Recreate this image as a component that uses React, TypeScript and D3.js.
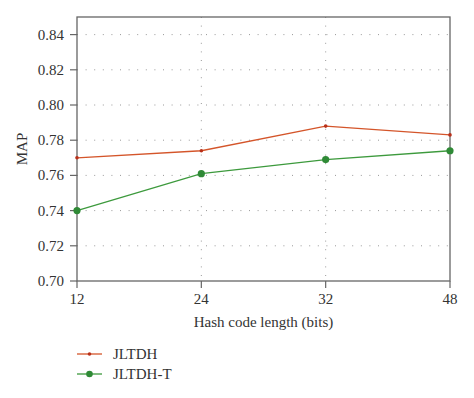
import React from "react";
import * as d3 from "d3";

const categories = ["12", "24", "32", "48"];
const jltdh = [0.770, 0.774, 0.788, 0.783];
const jltdhT = [0.740, 0.761, 0.769, 0.774];
const yTicks = [0.70, 0.72, 0.74, 0.76, 0.78, 0.80, 0.82, 0.84];
const seriesNames = ["JLTDH", "JLTDH-T"];

const W = 474, H = 398;
const M = { left: 77, right: 450, top: 17, bottom: 281 };
const FONT = "'Liberation Serif', 'Times New Roman', serif";
const RED = "#d4552a";
const GREEN = "#3d9a3d";
const AXIS = "#666";

export default function App() {
  const x = d3.scalePoint<string>().domain(categories).range([M.left, M.right]);
  const y = d3.scaleLinear().domain([0.70, 0.85]).range([M.bottom, M.top]);
  const line = d3
    .line<number>()
    .x((_, i) => x(categories[i]) as number)
    .y((d) => y(d));

  return (
    <svg width={W} height={H} style={{ position: "absolute", left: 0, top: 0, background: "#fff" }}>
      <rect x={0} y={0} width={W} height={H} fill="#fff" />
      {/* grid */}
      {yTicks.filter((t) => t > 0.70).map((t) => (
        <line key={"gy" + t} x1={M.left} x2={M.right} y1={y(t)} y2={y(t)} stroke="#999" strokeWidth={1} strokeDasharray="1,7.6" />
      ))}
      {categories.slice(1, -1).map((c) => (
        <line key={"gx" + c} x1={x(c)} x2={x(c)} y1={M.top} y2={M.bottom} stroke="#999" strokeWidth={1} strokeDasharray="1,7.6" />
      ))}
      {/* frame */}
      <rect x={M.left} y={M.top} width={M.right - M.left} height={M.bottom - M.top} fill="none" stroke={AXIS} strokeWidth={1.3} />
      {/* y ticks */}
      {yTicks.map((t) => (
        <g key={"yt" + t}>
          <line x1={M.left - 7} x2={M.left} y1={y(t)} y2={y(t)} stroke={AXIS} strokeWidth={1.2} />
          <text x={M.left - 13} y={y(t) + 5} textAnchor="end" fontFamily={FONT} fontSize={15} fill="#333">
            {t.toFixed(2)}
          </text>
        </g>
      ))}
      {/* x ticks */}
      {categories.map((c) => (
        <g key={"xt" + c}>
          <line x1={x(c)} x2={x(c)} y1={M.bottom} y2={M.bottom + 7} stroke={AXIS} strokeWidth={1.2} />
          <text x={x(c)} y={M.bottom + 23} textAnchor="middle" fontFamily={FONT} fontSize={15} fill="#333">
            {c}
          </text>
        </g>
      ))}
      <text x={(M.left + M.right) / 2} y={327} textAnchor="middle" fontFamily={FONT} fontSize={15} fill="#333">
        Hash code length (bits)
      </text>
      <text transform={`translate(27,${(M.top + M.bottom) / 2}) rotate(-90)`} textAnchor="middle" fontFamily={FONT} fontSize={15} fill="#333">
        MAP
      </text>
      {/* series */}
      <path d={line(jltdh) || ""} fill="none" stroke={RED} strokeWidth={1.3} />
      {jltdh.map((v, i) => (
        <circle key={"r" + i} cx={x(categories[i])} cy={y(v)} r={1.8} fill="#b8301a" />
      ))}
      <path d={line(jltdhT) || ""} fill="none" stroke={GREEN} strokeWidth={1.3} />
      {jltdhT.map((v, i) => (
        <circle key={"g" + i} cx={x(categories[i])} cy={y(v)} r={3.6} fill="#2f8a36" />
      ))}
      {/* legend */}
      <line x1={77} x2={102} y1={354} y2={354} stroke={RED} strokeWidth={1.3} />
      <circle cx={89.5} cy={354} r={1.8} fill="#b8301a" />
      <text x={113} y={359} fontFamily={FONT} fontSize={15} fill="#333">{seriesNames[0]}</text>
      <line x1={77} x2={102} y1={374} y2={374} stroke={GREEN} strokeWidth={1.3} />
      <circle cx={89.5} cy={374} r={3.3} fill="#2f8a36" />
      <text x={113} y={379} fontFamily={FONT} fontSize={15} fill="#333">{seriesNames[1]}</text>
    </svg>
  );
}
